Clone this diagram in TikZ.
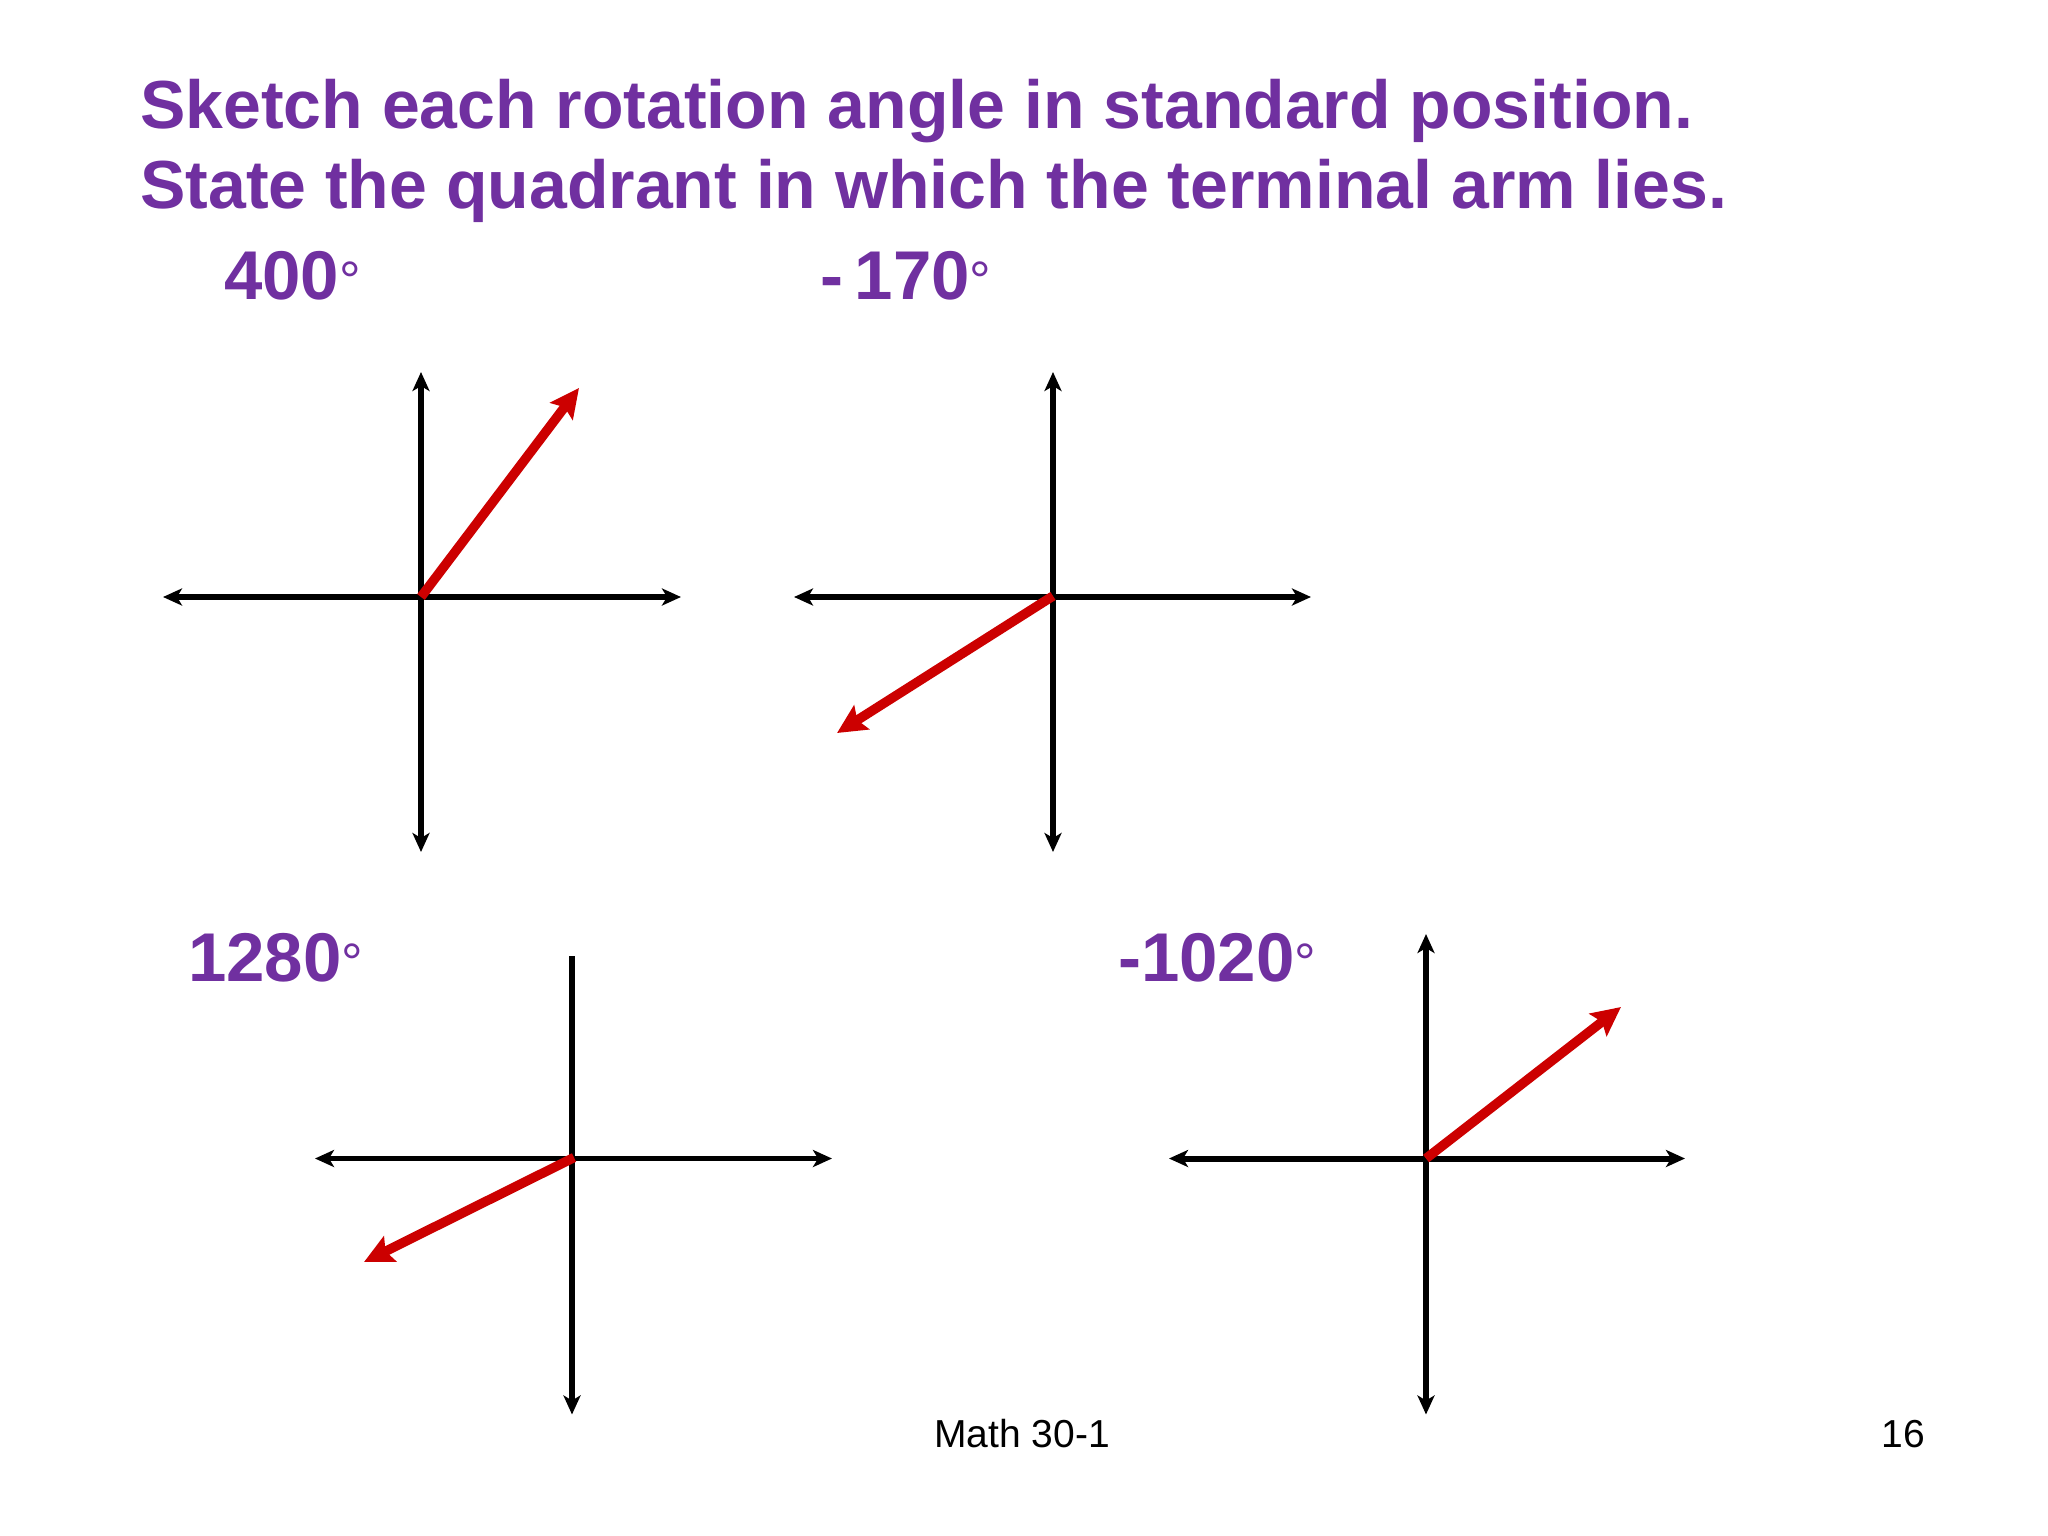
\documentclass[tikz,border=0pt]{standalone}
\usepackage{fontspec}
\setmainfont{Liberation Sans}
\usetikzlibrary{arrows.meta}
\definecolor{titlepurple}{RGB}{112,48,160}
\definecolor{armred}{RGB}{204,0,0}
\tikzset{
  axtip/.tip={Stealth[length=19pt,width=17pt,inset=5pt]},
  armtip/.tip={Stealth[length=29pt,width=28pt,inset=5pt]},
  axisline/.style={draw=black, line width=6pt},
  armline/.style={draw=armred, line width=9.5pt, arrows={-armtip}},
  titletext/.style={inner sep=0pt, anchor=base west, text=titlepurple,
    font=\fontsize{68}{68}\selectfont\bfseries},
  labeltext/.style={inner sep=0pt, anchor=base west, text=titlepurple,
    font=\fontsize{69}{69}\selectfont\bfseries},
  foottext/.style={inner sep=0pt, text=black, font=\fontsize{39}{39}\selectfont},
}
\newcommand{\degsign}{{\fontsize{54}{54}\selectfont\mdseries °}}
\begin{document}
\begin{tikzpicture}[x=1pt,y=-1pt]
\useasboundingbox[fill=white] (0,0) rectangle (2048,1536);

% titles
\node[titletext] (t1) at (140,128.5) {Sketch each rotation angle in standard position.};
\node[titletext] (t2) at (140,208.5) {State the quadrant in which the terminal arm lies.};

% labels
\node[labeltext] (l1) at (224,299.3) {400\degsign};
\node[labeltext] (l2) at (820,299.3) {-\,170\degsign};
\node[labeltext] (l3) at (188,981.7) {1280\degsign};
\node[labeltext] (l4) at (1118,981.7) {-1020\degsign};

% graph 1 : 400
\coordinate (o1) at (421,597);
\coordinate (l1a) at (163,597);
\coordinate (r1a) at (681,597);
\coordinate (t1a) at (421,372);
\coordinate (b1a) at (421,852);
\coordinate (p1) at (579,388);
\draw[axisline, arrows={axtip-axtip}] (l1a) -- (r1a);
\draw[axisline, arrows={axtip-axtip}] (t1a) -- (b1a);
\draw[armline] (o1) -- (p1);

% graph 2 : -170
\coordinate (o2) at (1053,596);
\coordinate (l2a) at (794,597);
\coordinate (r2a) at (1311,597);
\coordinate (t2a) at (1053,372);
\coordinate (b2a) at (1053,852);
\coordinate (p2) at (837,733);
\draw[axisline, arrows={axtip-axtip}] (l2a) -- (r2a);
\draw[axisline, arrows={axtip-axtip}] (t2a) -- (b2a);
\draw[armline] (o2) -- (p2);

% graph 3 : 1280
\coordinate (o3) at (574,1157.5);
\coordinate (l3a) at (315,1158.5);
\coordinate (r3a) at (832,1158.5);
\coordinate (t3a) at (572,956);
\coordinate (b3a) at (572,1414.5);
\coordinate (p3) at (364,1262);
\draw[axisline, line width=5.5pt, arrows={axtip-axtip}] (l3a) -- (r3a);
\draw[axisline, line width=5.5pt, arrows={-axtip}] (t3a) -- (b3a);
\draw[armline] (o3) -- (p3);

% graph 4 : -1020
\coordinate (o4) at (1426,1158.5);
\coordinate (l4a) at (1169,1158.5);
\coordinate (r4a) at (1685,1158.5);
\coordinate (t4a) at (1426,934);
\coordinate (b4a) at (1426,1414.5);
\coordinate (p4) at (1621,1007);
\draw[axisline, arrows={axtip-axtip}] (l4a) -- (r4a);
\draw[axisline, arrows={axtip-axtip}] (t4a) -- (b4a);
\draw[armline] (o4) -- (p4);

% footer
\node[foottext, anchor=base west] (f1) at (934,1447.3) {Math 30-1};
\node[foottext, anchor=base east] (f2) at (1925,1447.3) {16};
\end{tikzpicture}
\end{document}
